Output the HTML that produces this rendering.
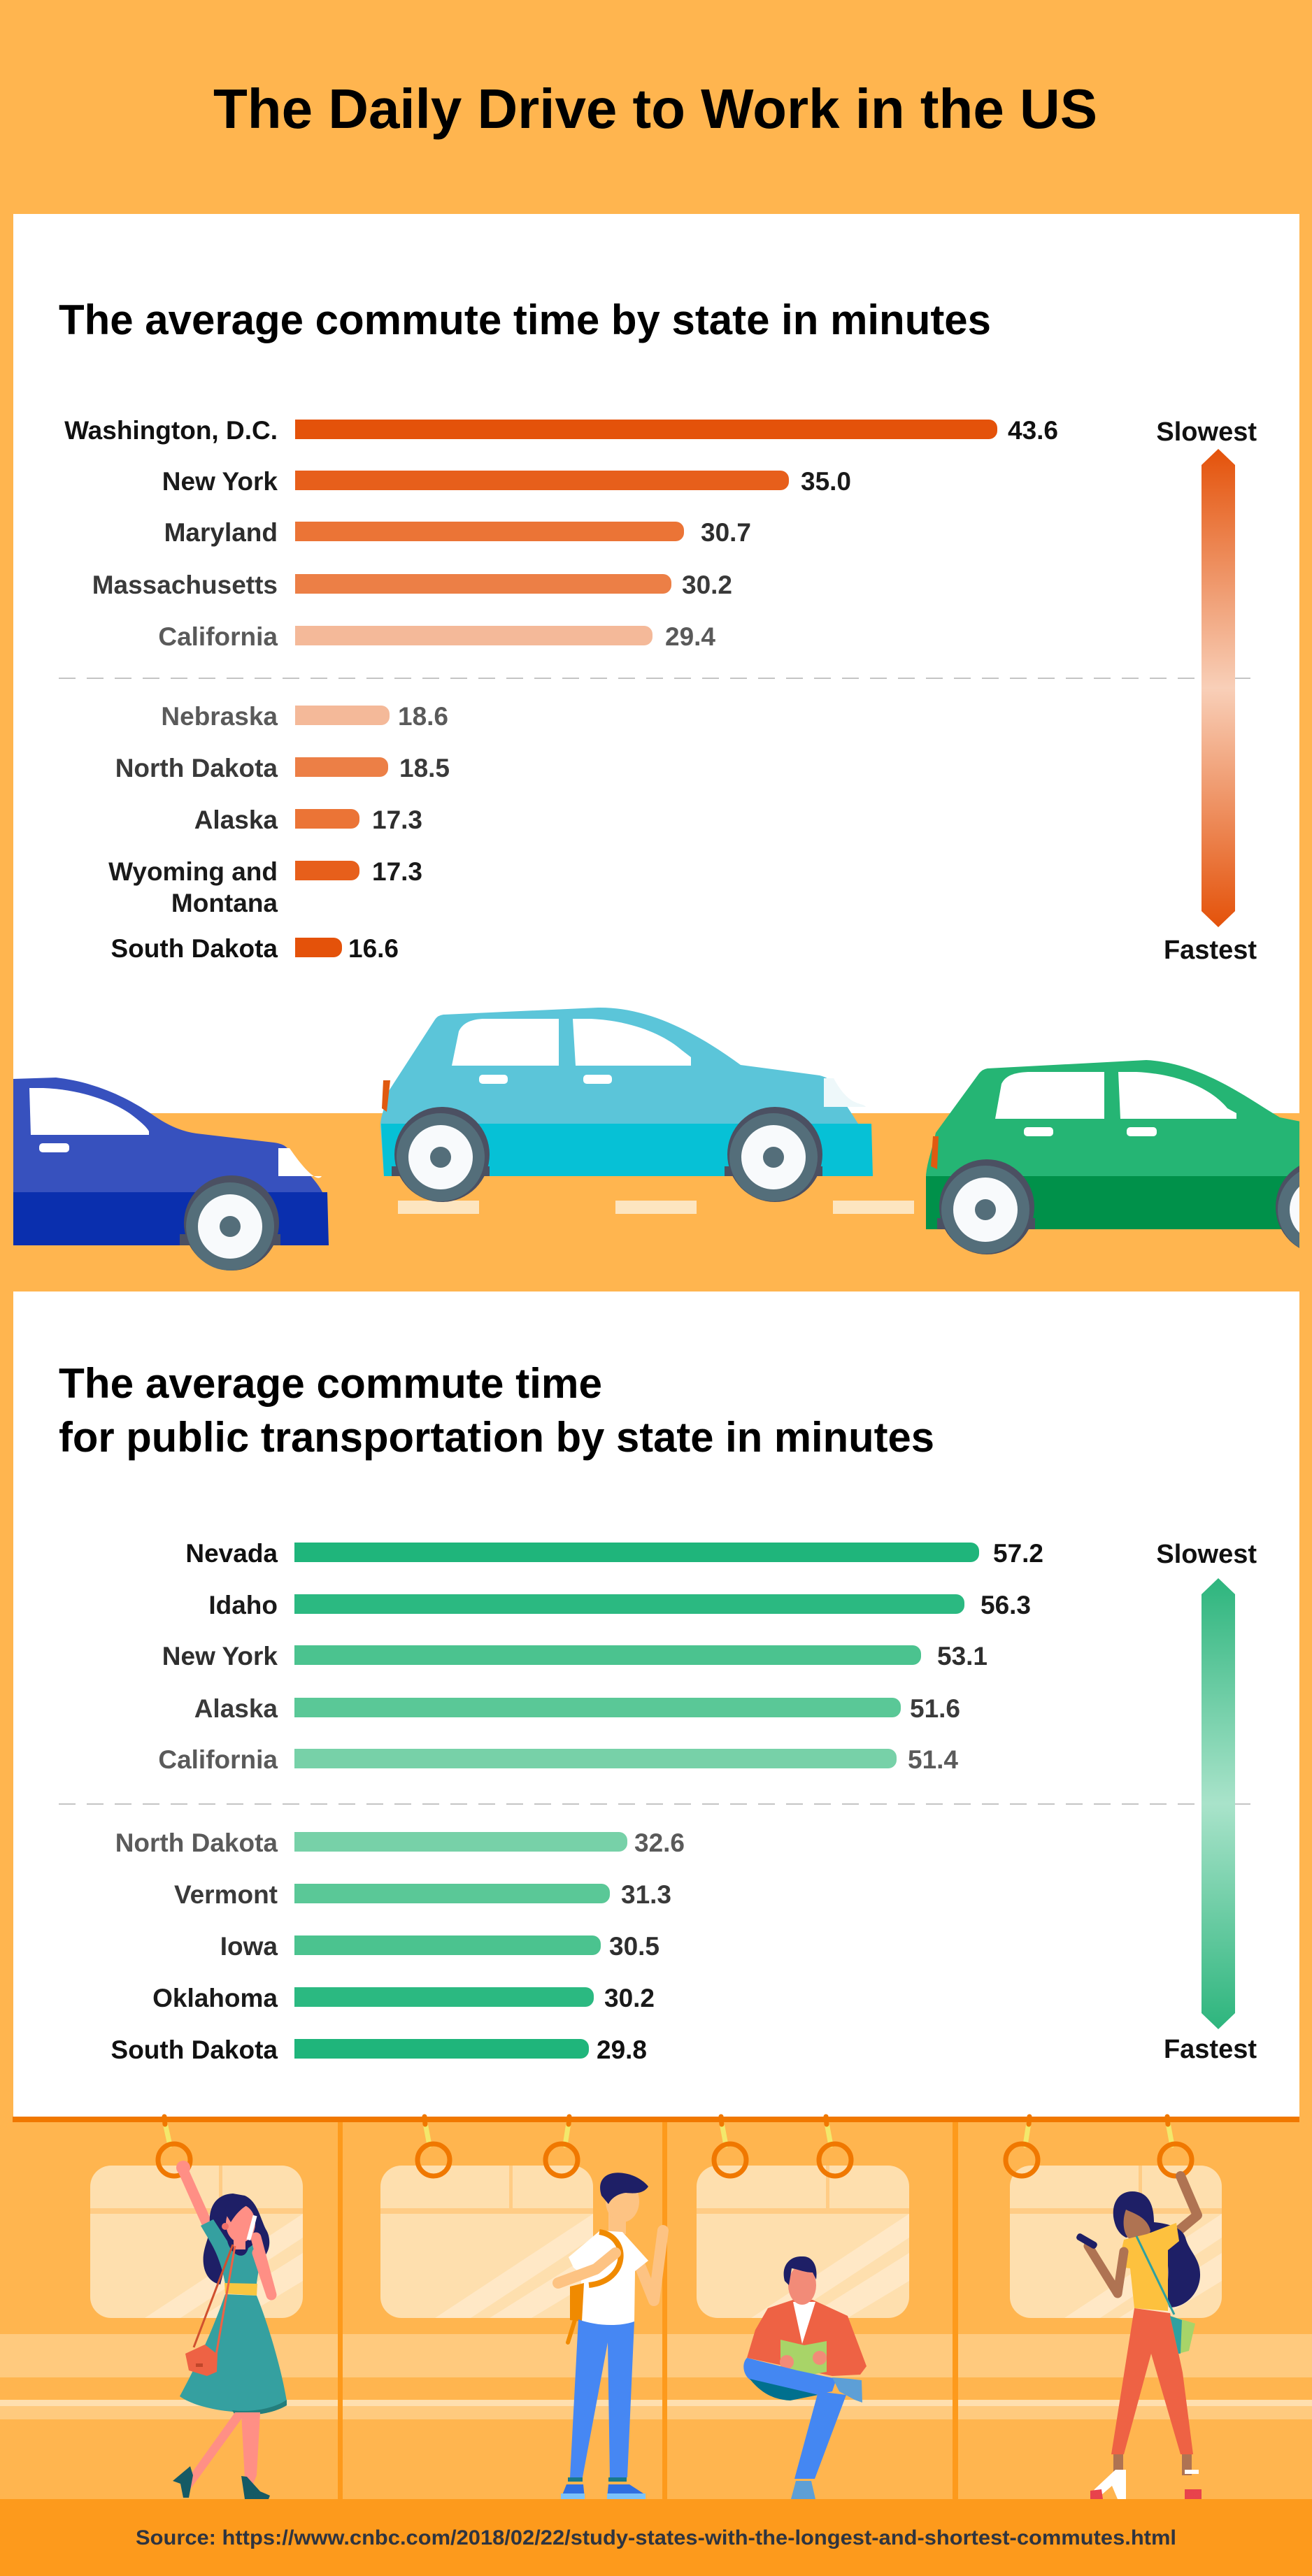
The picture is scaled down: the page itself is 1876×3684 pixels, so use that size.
<!DOCTYPE html>
<html><head><meta charset="utf-8"><style>
html,body{margin:0;padding:0;background:#FFB54F;}
body{width:1876px;height:3684px;overflow:hidden;}
svg{display:block;}
text{font-family:"Liberation Sans",Arial,sans-serif;}
</style></head><body>
<svg width="1876" height="3684" viewBox="0 0 1876 3684" xmlns="http://www.w3.org/2000/svg">
<defs>
<linearGradient id="og" x1="0" y1="0" x2="0" y2="1">
<stop offset="0" stop-color="#E4520A"/><stop offset="0.5" stop-color="#F8CFB8"/><stop offset="1" stop-color="#E4520A"/>
</linearGradient>
<linearGradient id="gg" x1="0" y1="0" x2="0" y2="1">
<stop offset="0" stop-color="#2DB57D"/><stop offset="0.5" stop-color="#A9E3CA"/><stop offset="1" stop-color="#2DB57D"/>
</linearGradient>
<clipPath id="road"><rect x="19" y="1300" width="1839" height="547"/></clipPath>
<clipPath id="w1"><rect x="129" y="3097" width="304" height="218" rx="30"/></clipPath>
<clipPath id="w2"><rect x="544" y="3097" width="304" height="218" rx="30"/></clipPath>
<clipPath id="w3"><rect x="996" y="3097" width="304" height="218" rx="30"/></clipPath>
<clipPath id="w4"><rect x="1444" y="3097" width="303" height="218" rx="30"/></clipPath>
</defs>

<rect x="0" y="0" width="1876" height="3684" fill="#FFB54F"/>

<!-- Title -->
<text x="305" y="183" font-size="80" font-weight="bold" fill="#000" textLength="1264" lengthAdjust="spacingAndGlyphs">The Daily Drive to Work in the US</text>

<!-- Panel 1 -->
<rect x="19" y="306" width="1839" height="1286" fill="#FFFFFF"/>
<text x="84" y="478" font-size="60" font-weight="bold" fill="#000" textLength="1333" lengthAdjust="spacingAndGlyphs">The average commute time by state in minutes</text>

<g font-size="37" font-weight="bold">
<!-- chart 1 bars -->
<path d="M422,600 H1414 A12 12 0 0 1 1426,612 V616 A12 12 0 0 1 1414,628 H422 Z" fill="#E4520A"/>
<path d="M422,673 H1116 A12 12 0 0 1 1128,685 V689 A12 12 0 0 1 1116,701 H422 Z" fill="#E75F1B"/>
<path d="M422,746 H966 A12 12 0 0 1 978,758 V762 A12 12 0 0 1 966,774 H422 Z" fill="#EB7436"/>
<path d="M422,821 H948 A12 12 0 0 1 960,833 V837 A12 12 0 0 1 948,849 H422 Z" fill="#EC7F46"/>
<path d="M422,895 H921 A12 12 0 0 1 933,907 V911 A12 12 0 0 1 921,923 H422 Z" fill="#F4B999"/>
<path d="M422,1009 H545 A12 12 0 0 1 557,1021 V1025 A12 12 0 0 1 545,1037 H422 Z" fill="#F4B999"/>
<path d="M422,1083 H543 A12 12 0 0 1 555,1095 V1099 A12 12 0 0 1 543,1111 H422 Z" fill="#EC7F46"/>
<path d="M422,1157 H502 A12 12 0 0 1 514,1169 V1173 A12 12 0 0 1 502,1185 H422 Z" fill="#EB7436"/>
<path d="M422,1231 H502 A12 12 0 0 1 514,1243 V1247 A12 12 0 0 1 502,1259 H422 Z" fill="#E75F1B"/>
<path d="M422,1341 H477 A12 12 0 0 1 489,1353 V1357 A12 12 0 0 1 477,1369 H422 Z" fill="#E4520A"/>

<g text-anchor="end">
<text x="397" y="628" fill="#111">Washington, D.C.</text>
<text x="397" y="701" fill="#1a1a1a">New York</text>
<text x="397" y="774" fill="#2e2e2e">Maryland</text>
<text x="397" y="849" fill="#3a3a3a">Massachusetts</text>
<text x="397" y="923" fill="#5a5a5a">California</text>
<text x="397" y="1037" fill="#5a5a5a">Nebraska</text>
<text x="397" y="1111" fill="#3a3a3a">North Dakota</text>
<text x="397" y="1185" fill="#2e2e2e">Alaska</text>
<text x="397" y="1259" fill="#1a1a1a">Wyoming and</text>
<text x="397" y="1304" fill="#1a1a1a">Montana</text>
<text x="397" y="1369" fill="#111">South Dakota</text>
<text x="1797" y="630" font-size="38" fill="#111">Slowest</text>
<text x="1797" y="1371" font-size="38" fill="#111">Fastest</text>
</g>
<text x="1441" y="628" fill="#111">43.6</text>
<text x="1145" y="701" fill="#1a1a1a">35.0</text>
<text x="1002" y="774" fill="#2e2e2e">30.7</text>
<text x="975" y="849" fill="#3a3a3a">30.2</text>
<text x="951" y="923" fill="#5a5a5a">29.4</text>
<text x="569" y="1037" fill="#5a5a5a">18.6</text>
<text x="571" y="1111" fill="#3a3a3a">18.5</text>
<text x="532" y="1185" fill="#2e2e2e">17.3</text>
<text x="532" y="1259" fill="#1a1a1a">17.3</text>
<text x="498" y="1369" fill="#111">16.6</text>
</g>
<line x1="84" y1="970" x2="1800" y2="970" stroke="#C4C4C4" stroke-width="2" stroke-dasharray="24 16"/>
<polygon points="1742,642 1766,665 1766,1303 1742,1326 1718,1303 1718,665" fill="url(#og)"/>

<!-- Road scene -->
<g clip-path="url(#road)">
<rect x="569" y="1717" width="116" height="19" fill="#FDE5C0"/>
<rect x="880" y="1717" width="116" height="19" fill="#FDE5C0"/>
<rect x="1191" y="1717" width="116" height="19" fill="#FDE5C0"/>

<!-- Blue car -->
<path d="M19,1781 L19,1543 L80,1541 C140,1548 185,1572 215,1592 C240,1610 260,1618 281,1621 L392,1634 Q408,1636 413,1645 C440,1680 462,1695 466,1720 L470,1781 Z" fill="#3751BE"/>
<path d="M19,1705 L468,1705 L470,1781 L19,1781 Z" fill="#0A2FAE"/>
<path d="M42,1556 L62,1556 C115,1558 160,1575 185,1592 C200,1603 210,1612 213,1618 L213,1623 L44,1623 Z" fill="#FFFFFF"/>
<rect x="56" y="1635" width="43" height="13" rx="5" fill="#FFFFFF"/>
<path d="M398,1642 L414,1642 C440,1680 455,1690 460,1682 L398,1682 Z" fill="#FFFFFF"/>
<rect x="257" y="1765" width="144" height="16" fill="#4B5062"/>
<circle cx="331" cy="1749" r="68" fill="#4B5062"/>
<circle cx="329" cy="1754" r="63" fill="#546E7A"/>
<circle cx="329" cy="1754" r="46" fill="#F8FAFC"/>
<circle cx="329" cy="1754" r="15" fill="#546E7A"/>

<!-- Teal car -->
<path d="M549,1682 L544,1610 C544,1595 552,1580 556,1560 L622,1458 Q626,1452 634,1451 L855,1441 C930,1440 1000,1480 1059,1523 L1172,1538 Q1188,1542 1192,1552 C1215,1590 1238,1620 1244,1640 L1248,1682 Z" fill="#5BC5D9"/>
<path d="M545,1607 L1246,1607 L1248,1682 L549,1682 Z" fill="#06C1D6"/>
<path d="M646,1524 L656,1475 C662,1462 675,1458 690,1457 L799,1457 L799,1524 Z" fill="#FFFFFF"/>
<path d="M819,1457 L845,1457 C905,1460 950,1480 975,1502 L988,1512 L988,1524 L823,1524 Z" fill="#FFFFFF"/>
<rect x="685" y="1537" width="41" height="13" rx="5" fill="#FFFFFF"/>
<rect x="834" y="1537" width="41" height="13" rx="5" fill="#FFFFFF"/>
<path d="M548,1545 L558,1545 L553,1590 L546,1585 Z" fill="#E05A10"/>
<path d="M1178,1542 L1192,1542 C1215,1585 1232,1575 1238,1583 L1178,1583 Z" fill="#EEF8FA"/>
<rect x="560" y="1668" width="140" height="14" fill="#4B5062"/>
<rect x="1036" y="1668" width="140" height="14" fill="#4B5062"/>
<circle cx="632" cy="1651" r="68" fill="#4B5062"/>
<circle cx="630" cy="1655" r="63" fill="#546E7A"/>
<circle cx="630" cy="1655" r="46" fill="#F8FAFC"/>
<circle cx="630" cy="1655" r="15" fill="#546E7A"/>
<circle cx="1108" cy="1651" r="68" fill="#4B5062"/>
<circle cx="1106" cy="1655" r="63" fill="#546E7A"/>
<circle cx="1106" cy="1655" r="46" fill="#F8FAFC"/>
<circle cx="1106" cy="1655" r="15" fill="#546E7A"/>

<!-- Green car -->
<path d="M1324,1758 L1324,1680 C1326,1660 1334,1640 1338,1620 L1400,1535 Q1405,1529 1412,1528 L1639,1516 C1720,1520 1790,1575 1830,1598 L1880,1608 L1880,1758 Z" fill="#25B574"/>
<rect x="1324" y="1682" width="556" height="76" fill="#00914A"/>
<path d="M1423,1600 L1432,1550 C1438,1538 1450,1534 1470,1533 L1579,1533 L1579,1600 Z" fill="#FFFFFF"/>
<path d="M1599,1533 L1625,1533 C1690,1536 1735,1560 1755,1585 L1768,1592 L1768,1600 L1602,1600 Z" fill="#FFFFFF"/>
<rect x="1464" y="1612" width="42" height="13" rx="5" fill="#FFFFFF"/>
<rect x="1611" y="1612" width="43" height="13" rx="5" fill="#FFFFFF"/>
<path d="M1334,1625 L1342,1625 L1340,1672 L1331,1668 Z" fill="#E05A10"/>
<rect x="1340" y="1742" width="140" height="16" fill="#4B5062"/>
<circle cx="1411" cy="1726" r="68" fill="#4B5062"/>
<circle cx="1409" cy="1730" r="63" fill="#546E7A"/>
<circle cx="1409" cy="1730" r="46" fill="#F8FAFC"/>
<circle cx="1409" cy="1730" r="15" fill="#546E7A"/>
<circle cx="1892" cy="1726" r="68" fill="#4B5062"/>
<circle cx="1890" cy="1730" r="63" fill="#546E7A"/>
<circle cx="1890" cy="1730" r="46" fill="#F8FAFC"/>
</g>

<!-- Panel 2 -->
<rect x="19" y="1847" width="1839" height="1180" fill="#FFFFFF"/>
<text x="84" y="1999" font-size="60" font-weight="bold" fill="#000" textLength="777" lengthAdjust="spacingAndGlyphs">The average commute time</text>
<text x="84" y="2076" font-size="60" font-weight="bold" fill="#000" textLength="1252" lengthAdjust="spacingAndGlyphs">for public transportation by state in minutes</text>

<g font-size="37" font-weight="bold">
<path d="M421,2206 H1388 A12 12 0 0 1 1400,2218 V2222 A12 12 0 0 1 1388,2234 H421 Z" fill="#1FB57B"/>
<path d="M421,2280 H1367 A12 12 0 0 1 1379,2292 V2296 A12 12 0 0 1 1367,2308 H421 Z" fill="#2BB981"/>
<path d="M421,2353 H1305 A12 12 0 0 1 1317,2365 V2369 A12 12 0 0 1 1305,2381 H421 Z" fill="#4BC38F"/>
<path d="M421,2428 H1276 A12 12 0 0 1 1288,2440 V2444 A12 12 0 0 1 1276,2456 H421 Z" fill="#5AC897"/>
<path d="M421,2501 H1270 A12 12 0 0 1 1282,2513 V2517 A12 12 0 0 1 1270,2529 H421 Z" fill="#77D1A8"/>
<path d="M421,2620 H885 A12 12 0 0 1 897,2632 V2636 A12 12 0 0 1 885,2648 H421 Z" fill="#77D1A8"/>
<path d="M421,2694 H860 A12 12 0 0 1 872,2706 V2710 A12 12 0 0 1 860,2722 H421 Z" fill="#5AC897"/>
<path d="M421,2768 H847 A12 12 0 0 1 859,2780 V2784 A12 12 0 0 1 847,2796 H421 Z" fill="#4BC38F"/>
<path d="M421,2842 H837 A12 12 0 0 1 849,2854 V2858 A12 12 0 0 1 837,2870 H421 Z" fill="#2BB981"/>
<path d="M421,2916 H830 A12 12 0 0 1 842,2928 V2932 A12 12 0 0 1 830,2944 H421 Z" fill="#1FB57B"/>
<g text-anchor="end">
<text x="397" y="2234" fill="#111">Nevada</text>
<text x="397" y="2308" fill="#1a1a1a">Idaho</text>
<text x="397" y="2381" fill="#2e2e2e">New York</text>
<text x="397" y="2456" fill="#3a3a3a">Alaska</text>
<text x="397" y="2529" fill="#5a5a5a">California</text>
<text x="397" y="2648" fill="#5a5a5a">North Dakota</text>
<text x="397" y="2722" fill="#3a3a3a">Vermont</text>
<text x="397" y="2796" fill="#2e2e2e">Iowa</text>
<text x="397" y="2870" fill="#1a1a1a">Oklahoma</text>
<text x="397" y="2944" fill="#111">South Dakota</text>
<text x="1797" y="2235" font-size="38" fill="#111">Slowest</text>
<text x="1797" y="2943" font-size="38" fill="#111">Fastest</text>
</g>
<text x="1420" y="2234" fill="#111">57.2</text>
<text x="1402" y="2308" fill="#1a1a1a">56.3</text>
<text x="1340" y="2381" fill="#2e2e2e">53.1</text>
<text x="1301" y="2456" fill="#3a3a3a">51.6</text>
<text x="1298" y="2529" fill="#5a5a5a">51.4</text>
<text x="907" y="2648" fill="#5a5a5a">32.6</text>
<text x="888" y="2722" fill="#3a3a3a">31.3</text>
<text x="871" y="2796" fill="#2e2e2e">30.5</text>
<text x="864" y="2870" fill="#1a1a1a">30.2</text>
<text x="853" y="2944" fill="#111">29.8</text>
</g>
<line x1="84" y1="2580" x2="1800" y2="2580" stroke="#C4C4C4" stroke-width="2" stroke-dasharray="24 16"/>
<polygon points="1742,2257 1766,2280 1766,2879 1742,2902 1718,2879 1718,2280" fill="url(#gg)"/>

<!-- Train interior -->
<rect x="0" y="3338" width="1876" height="62" fill="#FFCA7E"/>
<rect x="0" y="3432" width="1876" height="9" fill="#FFDFAE"/>
<rect x="0" y="3441" width="1876" height="19" fill="#FFCA7E"/>

<!-- windows -->
<g fill="#FEDFAE">
<rect x="129" y="3097" width="304" height="218" rx="30"/>
<rect x="544" y="3097" width="304" height="218" rx="30"/>
<rect x="996" y="3097" width="304" height="218" rx="30"/>
<rect x="1444" y="3097" width="303" height="218" rx="30"/>
</g>
<g fill="#FFE8C6">
<g clip-path="url(#w1)"><polygon points="207,3315 433,3166 433,3200 258,3315"/><polygon points="285,3315 433,3222 433,3262 345,3315"/></g>
<g clip-path="url(#w2)"><polygon points="622,3315 848,3166 848,3200 673,3315"/><polygon points="700,3315 848,3222 848,3262 760,3315"/></g>
<g clip-path="url(#w3)"><polygon points="1074,3315 1300,3166 1300,3200 1125,3315"/><polygon points="1152,3315 1300,3222 1300,3262 1212,3315"/></g>
<g clip-path="url(#w4)"><polygon points="1522,3315 1747,3166 1747,3200 1573,3315"/><polygon points="1600,3315 1747,3222 1747,3262 1660,3315"/></g>
</g>
<g fill="#FFCC85">
<rect x="129" y="3158" width="304" height="8"/><rect x="313" y="3097" width="5" height="61"/>
<rect x="544" y="3158" width="304" height="8"/><rect x="728" y="3097" width="5" height="61"/>
<rect x="996" y="3158" width="304" height="8"/><rect x="1181" y="3097" width="5" height="61"/>
<rect x="1444" y="3158" width="303" height="8"/><rect x="1628" y="3097" width="5" height="61"/>
</g>

<!-- dividers -->
<g fill="#FD9A1C">
<rect x="483" y="3034" width="7" height="540"/>
<rect x="947" y="3034" width="7" height="540"/>
<rect x="1362" y="3034" width="8" height="540"/>
</g>

<!-- rail -->
<rect x="18" y="3027" width="1840" height="8" fill="#F07800"/>

<!-- straps and rings -->
<g stroke-linecap="round">
<g stroke="#F3E86B" stroke-width="7">
<line x1="236" y1="3036" x2="243" y2="3068"/>
<line x1="608" y1="3036" x2="614" y2="3068"/>
<line x1="813" y1="3036" x2="808" y2="3068"/>
<line x1="1032" y1="3036" x2="1038" y2="3068"/>
<line x1="1182" y1="3036" x2="1188" y2="3068"/>
<line x1="1471" y1="3036" x2="1466" y2="3068"/>
<line x1="1670" y1="3036" x2="1676" y2="3068"/>
</g>
<g stroke="#F07800" stroke-width="7">
<line x1="235" y1="3027" x2="236" y2="3038"/>
<line x1="607" y1="3027" x2="608" y2="3038"/>
<line x1="814" y1="3027" x2="813" y2="3038"/>
<line x1="1031" y1="3027" x2="1032" y2="3038"/>
<line x1="1181" y1="3027" x2="1182" y2="3038"/>
<line x1="1472" y1="3027" x2="1471" y2="3038"/>
<line x1="1669" y1="3027" x2="1670" y2="3038"/>
</g>
<g fill="none" stroke="#F07800" stroke-width="7">
<circle cx="249" cy="3089" r="23"/>
<circle cx="620" cy="3089" r="23"/>
<circle cx="803" cy="3089" r="23"/>
<circle cx="1044" cy="3089" r="23"/>
<circle cx="1194" cy="3089" r="23"/>
<circle cx="1461" cy="3089" r="23"/>
<circle cx="1681" cy="3089" r="23"/>
</g>
</g>

<!-- Woman 1 -->
<g>
<line x1="296" y1="3180" x2="262" y2="3104" stroke="#FF8F85" stroke-width="15" stroke-linecap="round"/>
<circle cx="262" cy="3100" r="10" fill="#FF8F85"/>
<path d="M333,3137 C310,3138 298,3155 300,3180 C302,3198 288,3215 291,3238 C293,3255 303,3265 315,3267 L322,3240 L372,3232 C388,3222 388,3200 380,3188 C372,3172 368,3148 350,3140 Z" fill="#1E1F66"/>
<rect x="334" y="3195" width="17" height="22" fill="#FF8F85"/>
<ellipse cx="344" cy="3180" rx="21" ry="27" fill="#FF8F85"/>
<path d="M322,3165 C320,3142 345,3133 362,3150 C350,3154 340,3162 330,3178 Z" fill="#1E1F66"/>
<circle cx="322" cy="3184" r="5" fill="#F0706A"/>
<path d="M287,3183 L305,3174 L325,3205 C330,3225 350,3235 355,3215 L362,3210 L372,3222 C372,3240 368,3255 367,3266 L322,3266 C318,3245 312,3225 300,3205 Z" fill="#35A0A0"/>
<path d="M321,3265 L368,3266 L367,3283 L322,3280 Z" fill="#F9C640"/>
<path d="M322,3281 L367,3283 C382,3320 402,3385 410,3434 C390,3448 355,3452 332,3449 C300,3446 272,3438 257,3427 C280,3385 305,3330 322,3281 Z" fill="#35A0A0"/>
<path d="M332,3447 C355,3450 390,3446 410,3432 L410,3440 C390,3452 360,3456 335,3452 Z" fill="#247E7C"/>
<path d="M336,3450 L352,3450 L283,3545 L272,3560 L266,3548 Z" fill="#FF8F85"/>
<path d="M345,3450 L372,3450 L367,3540 L362,3552 L350,3545 Z" fill="#FF8F85"/>
<path d="M247,3548 L272,3527 L276,3540 L270,3572 L262,3572 L258,3552 Z" fill="#155A65"/>
<path d="M345,3541 L353,3542 L372,3563 L386,3569 L384,3574 L350,3574 Z" fill="#155A65"/>
<polyline points="368,3222 388,3282 366,3200" fill="none" stroke="#FF8F85" stroke-width="15" stroke-linejoin="round" stroke-linecap="round"/>
<rect x="357" y="3168" width="6" height="36" fill="#FFFFFF" transform="rotate(15 360 3186)"/>
<line x1="333" y1="3210" x2="277" y2="3357" stroke="#D0502E" stroke-width="3"/>
<line x1="336" y1="3212" x2="309" y2="3368" stroke="#EE6244" stroke-width="3"/>
<polygon points="265,3366 293,3353 311,3367 310,3392 296,3398 270,3390" fill="#EE6244"/>
<rect x="280" y="3380" width="10" height="5" fill="#C0462A"/>
</g>

<!-- Man 1 -->
<g>
<polyline points="915,3240 935,3290 948,3190" fill="none" stroke="#FDC383" stroke-width="16" stroke-linejoin="round" stroke-linecap="round"/>
<rect x="870" y="3160" width="25" height="35" fill="#FDC383"/>
<ellipse cx="890" cy="3148" rx="24" ry="30" fill="#FDC383"/>
<path d="M860,3140 C852,3115 870,3104 892,3108 C908,3110 922,3120 927,3127 C920,3138 905,3137 895,3136 C885,3137 875,3142 870,3152 Z" fill="#1E1F66"/>
<path d="M813,3228 L858,3190 L890,3192 L927,3233 L908,3248 L907,3320 C895,3328 880,3330 867,3328 C850,3328 835,3322 827,3317 L832,3252 L820,3243 Z" fill="#FFFFFF"/>
<path d="M815,3270 L835,3265 L832,3320 L815,3318 Z" fill="#F08A00"/>
<path d="M857,3192 C900,3198 900,3262 842,3268" stroke="#F08A00" stroke-width="8" fill="none"/>
<line x1="822" y1="3318" x2="812" y2="3350" stroke="#F08A00" stroke-width="6" stroke-linecap="round"/>
<polyline points="798,3265 852,3245 880,3222" fill="none" stroke="#FDC383" stroke-width="16" stroke-linejoin="round" stroke-linecap="round"/>
<path d="M827,3317 C850,3326 885,3328 907,3320 L897,3543 L872,3543 L869,3350 L833,3543 L815,3543 Z" fill="#4687F3"/>
<rect x="812" y="3543" width="21" height="6" fill="#1A7A8A"/>
<rect x="870" y="3543" width="26" height="6" fill="#1A7A8A"/>
<path d="M810,3553 L834,3553 L836,3573 L802,3573 Z" fill="#2F6FE0"/>
<rect x="802" y="3566" width="34" height="8" fill="#7BC3FA"/>
<path d="M870,3553 L900,3553 L920,3566 L923,3573 L868,3573 Z" fill="#2F6FE0"/>
<rect x="868" y="3566" width="55" height="8" fill="#7BC3FA"/>
</g>

<!-- Man 2 seated -->
<g>
<rect x="1136" y="3280" width="24" height="18" fill="#F28B78"/>
<path d="M1098,3301 L1134,3289 L1162,3289 L1212,3312 L1239,3384 L1230,3396 L1190,3398 L1068,3372 L1080,3332 Z" fill="#EE6244"/>
<path d="M1134,3292 L1166,3292 L1147,3352 Z" fill="#FFFFFF"/>
<ellipse cx="1147" cy="3268" rx="20" ry="28" fill="#F28B78"/>
<path d="M1122,3262 C1116,3240 1130,3226 1147,3227 C1160,3226 1170,3238 1167,3260 L1162,3250 C1150,3250 1140,3245 1132,3244 L1128,3268 Z" fill="#1E1F66"/>
<path d="M1116,3346 L1150,3354 L1182,3348 L1182,3392 L1150,3398 L1116,3386 Z" fill="#A8D468"/>
<circle cx="1125" cy="3378" r="10" fill="#F28B78"/>
<circle cx="1172" cy="3372" r="10" fill="#F28B78"/>
<path d="M1068,3372 C1060,3380 1062,3398 1075,3405 L1128,3432 L1190,3420 L1196,3402 L1140,3390 Z" fill="#4487F2"/>
<path d="M1072,3402 C1090,3425 1110,3432 1130,3433 L1170,3425 Z" fill="#00708E"/>
<path d="M1170,3420 L1210,3425 L1165,3545 L1136,3545 Z" fill="#4487F2"/>
<path d="M1190,3400 L1215,3402 L1232,3404 L1233,3436 L1222,3432 L1200,3420 Z" fill="#5D9FD6"/>
<path d="M1138,3548 L1160,3548 L1166,3574 L1131,3574 Z" fill="#5D9FD6"/>
</g>

<!-- Woman 2 -->
<g>
<polyline points="1683,3192 1712,3168 1688,3112" fill="none" stroke="#AF7352" stroke-width="14" stroke-linejoin="round" stroke-linecap="round"/>
<path d="M1619,3134 C1600,3134 1590,3150 1592,3170 C1594,3185 1600,3195 1610,3200 L1660,3190 C1670,3200 1668,3215 1670,3240 C1672,3265 1665,3285 1672,3300 C1695,3300 1715,3280 1716,3255 C1717,3230 1700,3220 1695,3200 C1690,3185 1670,3180 1650,3178 C1650,3150 1640,3134 1619,3134 Z" fill="#1E1F66"/>
<path d="M1610,3160 C1620,3165 1640,3170 1645,3190 L1640,3205 L1615,3202 C1606,3195 1604,3175 1610,3160 Z" fill="#AF7352"/>
<path d="M1607,3203 L1640,3195 L1682,3179 L1686,3205 L1670,3218 L1670,3305 L1622,3301 L1616,3244 L1598,3242 Z" fill="#FDC13E"/>
<polyline points="1607,3220 1598,3280 1556,3212" fill="none" stroke="#AF7352" stroke-width="13" stroke-linejoin="round" stroke-linecap="round"/>
<rect x="1538" y="3200" width="32" height="10" rx="4" fill="#1E1F66" transform="rotate(30 1554 3205)"/>
<path d="M1622,3301 L1673,3308 L1691,3393 L1706,3510 L1688,3510 L1646,3366 L1607,3510 L1589,3510 Z" fill="#EE6244"/>
<rect x="1592" y="3510" width="14" height="30" fill="#AF7352"/>
<rect x="1690" y="3510" width="14" height="30" fill="#AF7352"/>
<path d="M1595,3532 L1610,3532 L1610,3574 L1598,3574 L1590,3555 L1568,3574 L1559,3572 L1565,3560 Z" fill="#FFFFFF"/>
<path d="M1559,3562 L1575,3560 L1577,3574 L1559,3574 Z" fill="#E8424C"/>
<rect x="1694" y="3532" width="20" height="6" fill="#FFFFFF"/>
<path d="M1694,3560 L1718,3560 L1718,3574 L1694,3574 Z" fill="#E8424C"/>
<line x1="1625" y1="3198" x2="1679" y2="3310" stroke="#2FA0A0" stroke-width="3"/>
<path d="M1673,3312 L1709,3323 L1700,3362 L1685,3366 Z" fill="#A8D468"/>
<path d="M1673,3312 L1690,3318 L1688,3366 L1685,3366 Z" fill="#2FA0A0"/>
</g>

<!-- Floor -->
<rect x="0" y="3574" width="1876" height="110" fill="#FD9A1C"/>
<text x="194" y="3639" font-size="30" font-weight="bold" fill="#2E3440" textLength="1488" lengthAdjust="spacingAndGlyphs">Source: https://www.cnbc.com/2018/02/22/study-states-with-the-longest-and-shortest-commutes.html</text>
</svg>
</body></html>
